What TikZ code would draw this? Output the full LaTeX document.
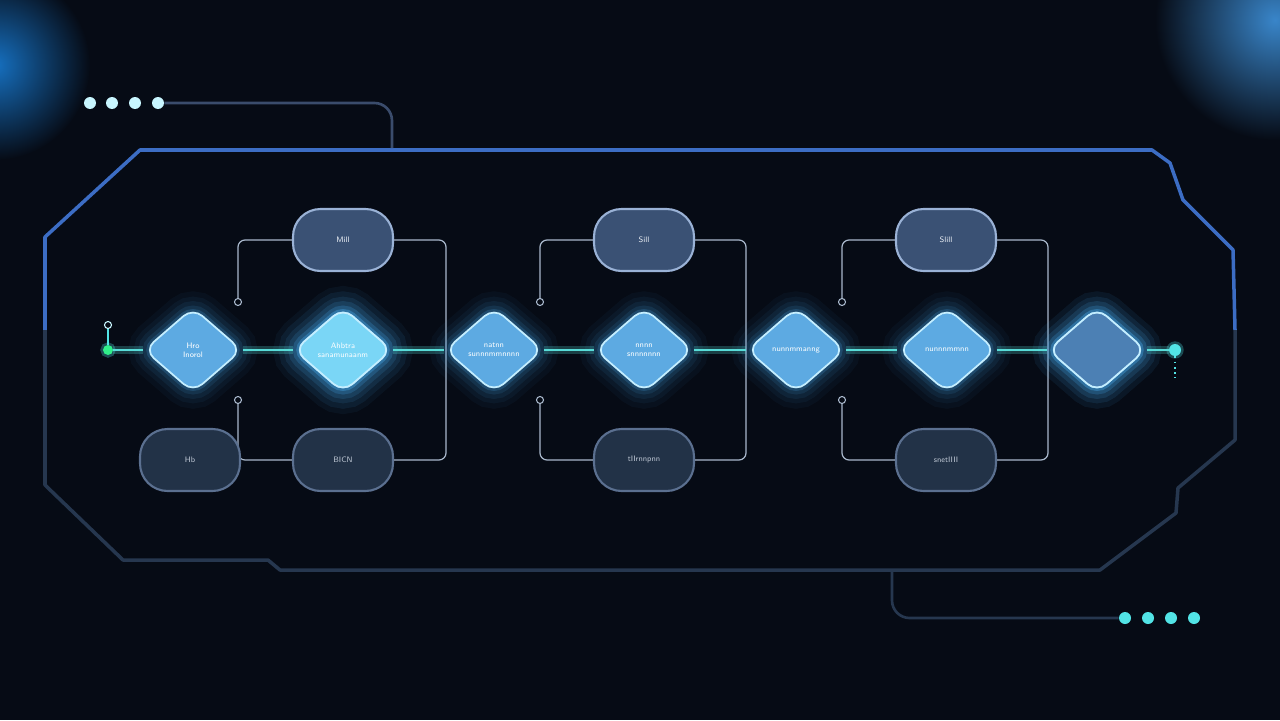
\documentclass[tikz,border=0pt]{standalone}
\usepackage{tikz}
\usetikzlibrary{shapes.geometric, positioning}

\definecolor{bgcol}{HTML}{060B15}
\definecolor{cornerblue}{HTML}{1670C0}
\definecolor{framehi}{HTML}{3C6DC4}
\definecolor{framelo}{HTML}{26374F}
\definecolor{wirecol}{HTML}{3A4C6C}
\definecolor{dotcol}{HTML}{C8F6FF}
\definecolor{dotteal}{HTML}{52E4E6}
\definecolor{linecol}{HTML}{58DCD8}
\definecolor{glowcyan}{HTML}{4FB8FF}
\definecolor{diafill}{HTML}{5DAAE2}
\definecolor{diabright}{HTML}{7AD6F6}
\definecolor{diadim}{HTML}{4C80B4}
\definecolor{diaedge}{HTML}{C4EEFF}
\definecolor{pillhi}{HTML}{3A5174}
\definecolor{pillhiedge}{HTML}{9AB2D6}
\definecolor{pilllo}{HTML}{223247}
\definecolor{pillloedge}{HTML}{5B7090}
\definecolor{loopcol}{HTML}{A9B8CC}

\tikzset{
  dia/.style={diamond, aspect=1.14, minimum width=1.96cm, minimum height=1.7cm,
    inner sep=0pt, rounded corners=7pt, fill=diafill, draw=diaedge, line width=1pt,
    text=white, align=center, font=\sffamily\fontsize{4.5}{5}\selectfont,
    preaction={draw=glowcyan, line width=24pt, opacity=.04},
    preaction={draw=glowcyan, line width=18pt, opacity=.05},
    preaction={draw=glowcyan, line width=13pt, opacity=.07},
    preaction={draw=glowcyan, line width=8pt, opacity=.1},
    preaction={draw=glowcyan, line width=4pt, opacity=.18}},
  pilltop/.style={rectangle, rounded corners=0.55cm, minimum width=2cm, minimum height=1.24cm,
    fill=pillhi, draw=pillhiedge, line width=1.2pt, text=white!85!pillhiedge,
    font=\sffamily\fontsize{4.5}{5}\selectfont},
  pillbot/.style={pilltop, fill=pilllo, draw=pillloedge, text=white!60!pillloedge},
  loopline/.style={draw=loopcol, line width=0.7pt, rounded corners=4pt},
  endmark/.style={circle, draw=loopcol, fill=bgcol, line width=0.6pt, inner sep=0pt, minimum size=4pt},
  dotcirc/.style={circle, fill=dotcol, inner sep=0pt, minimum size=0.24cm},
  mainline/.style={draw=linecol, line width=1.2pt,
    preaction={draw=linecol, line width=4pt, opacity=.25}}
}

\begin{document}
\begin{tikzpicture}[x=0.02cm, y=-0.02cm]
  \useasboundingbox (0,0) rectangle (1280,720);
  \fill[bgcol] (0,0) rectangle (1280,720);

  %corner glows
  \shade[inner color=cornerblue, outer color=bgcol] (-5,65) circle (1.9cm);
  \shade[inner color=cornerblue!85!white, outer color=bgcol] (1275,20) circle (2.4cm);

  %frame
  \draw[framehi, line width=2pt, line join=round]
    (45,330) -- (45,237) -- (140,150) -- (1152,150) -- (1170,163)
    -- (1183,200) -- (1233,250) -- (1235,330);
  \draw[framelo, line width=2pt, line join=round]
    (45,330) -- (45,485) -- (123,560) -- (268,560) -- (280,570) -- (1100,570)
    -- (1176,513) -- (1178,488) -- (1235,440) -- (1235,330);

  %dots and hooks
  \foreach \i/\x in {1/90,2/112,3/135,4/158}
    \node[dotcirc] (tdot\i) at (\x,103) {};
  \foreach \i/\x in {1/1125,2/1148,3/1171,4/1194}
    \node[dotcirc, fill=dotteal] (bdot\i) at (\x,618) {};
  \coordinate (tophook) at (392,148);
  \coordinate (bothook) at (892,572);
  \draw[wirecol, line width=1.5pt, rounded corners=10pt] (tdot4.east) -| (tophook);
  \draw[framelo, line width=1.5pt, rounded corners=10pt] (bdot1.west) -| (bothook);

  %side pills and loops
  \foreach \g/\xl/\xc/\xr/\top/\bot in {1/238/343/446/Mill/BICN,
      2/540/644/746/Sill/tIIrnnpnn, 3/842/946/1048/Slill/snetIIII} {
    \node[pilltop] (t\g) at (\xc,240) {\top};
    \node[pillbot] (b\g) at (\xc,460) {\bot};
    \node[endmark] (ut\g) at (\xl,302) {};
    \node[endmark] (ub\g) at (\xl,400) {};
    \coordinate (r\g) at (\xr,350);
    \draw[loopline] (t\g.west) -| (ut\g);
    \draw[loopline] (b\g.west) -| (ub\g);
    \draw[loopline] (t\g.east) -| (r\g) |- (b\g.east);
  }
  \node[pillbot] (b0) at (190,460) {Hb};

  % main line
  \node[circle, fill=dotteal!60!green, inner sep=0pt, minimum size=0.2cm,
    preaction={draw=dotteal, line width=3pt, opacity=.3}] (sdot) at (108,350) {};
  \node[endmark, draw=dotcol] (sstem) at (108,325) {};
  \draw[dotteal, line width=0.8pt] (sdot) -- (sstem);
  \node[circle, fill=dotteal, inner sep=0pt, minimum size=0.24cm,
    preaction={draw=dotteal, line width=3pt, opacity=.3}] (edot) at (1175,350) {};
  \coordinate (estem) at (1175,378);
  \draw[dotteal, line width=1pt, dotted] (edot) -- (estem);

  \foreach \i/\x/\txt in {1/193/{Hro\\Inorol}, 2/343/{Ahbtra\\sanamunaanm},
      3/494/{natnn\\sunnnmmnnnn}, 4/644/{nnnn\\snnnnnnn}, 5/796/{nunnmmanng},
      6/947/{nunnnmmnn}, 7/1097/{}}
    \node[dia] (d\i) at (\x,350) {\txt};
  \node[dia, fill=diabright, preaction={draw=glowcyan, line width=30pt, opacity=.05}] at (d2) {};
  \node[text=white, align=center, font=\sffamily\fontsize{4.5}{5}\selectfont] at (d2) {Ahbtra\\sanamunaanm};
  \node[dia, fill=diadim] at (d7) {};

  \draw[mainline] (sdot) -- (d1) (d1) -- (d2) (d2) -- (d3) (d3) -- (d4)
    (d4) -- (d5) (d5) -- (d6) (d6) -- (d7) (d7) -- (edot);
\end{tikzpicture}
\end{document}
